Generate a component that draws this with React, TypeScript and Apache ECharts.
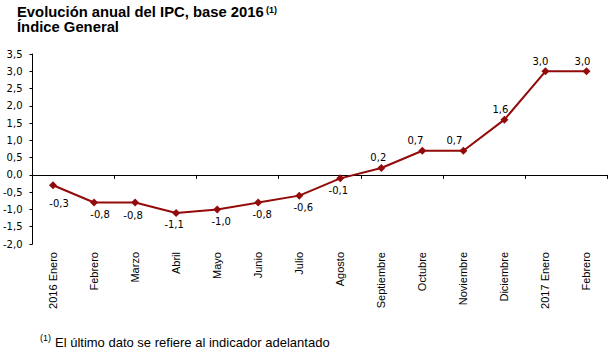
import React, { useEffect, useRef } from "react";
import * as echarts from "echarts";

const categories = [
  "2016 Enero", "Febrero", "Marzo", "Abril", "Mayo", "Junio", "Julio",
  "Agosto", "Septiembre", "Octubre", "Noviembre", "Diciembre", "2017 Enero", "Febrero",
];
const ipcValues = [-0.3, -0.8, -0.8, -1.1, -1.0, -0.8, -0.6, -0.1, 0.2, 0.7, 0.7, 1.6, 3.0, 3.0];
const yMin = -2;
const yMax = 3.5;
const yInterval = 0.5;
// label nudges (style only) [dx, dy]
const labelNudges = [
  [6, 6], [6, 0], [-2, 1], [-2, 0], [4, 0], [4, 0], [4, 0],
  [-2, 0], [-3, -1], [-7, 0], [-9, 0], [-4, 0], [-5, 0], [-4, 0],
];

const fmt = (v: number) => v.toFixed(1).replace(".", ",");

export default function App() {
  const ref = useRef<HTMLDivElement>(null);
  useEffect(() => {
    if (!ref.current) return;
    const chart = echarts.init(ref.current, null, { renderer: "svg" });
    const color = "#930a0a";
    chart.setOption({
      animation: false,
      grid: { left: 32, right: 9, top: 54, bottom: 110 },
      graphic: [
        {
          type: "text", left: 17, top: 4,
          style: { text: "Evolución anual del IPC, base 2016", font: "bold 14.8px 'Liberation Sans', Arial", fill: "#000" },
        },
        {
          type: "text", left: 266, top: 5,
          style: { text: "(1)", font: "bold 9px 'Liberation Sans', Arial", fill: "#000" },
        },
        {
          type: "text", left: 17, top: 19,
          style: { text: "Índice General", font: "bold 14.8px 'Liberation Sans', Arial", fill: "#000" },
        },
        {
          type: "text", left: 40, top: 333,
          style: { text: "(1)", font: "9px 'Liberation Sans', Arial", fill: "#000" },
        },
        {
          type: "text", left: 55, top: 336,
          style: { text: "El último dato se refiere al indicador adelantado", font: "13px 'Liberation Sans', Arial", fill: "#000" },
        },
      ],
      xAxis: [
        {
          type: "category",
          data: categories,
          boundaryGap: true,
          axisLine: { onZero: true, lineStyle: { color: "#000", width: 1 } },
          axisTick: { show: true, inside: false, length: 4, lineStyle: { color: "#000" } },
          axisLabel: { show: false },
        },
        {
          type: "category",
          data: categories,
          position: "bottom",
          boundaryGap: true,
          axisLine: { show: false, onZero: false },
          axisTick: { show: false },
          axisLabel: {
            show: true, rotate: 90, interval: 0, margin: 8,
            fontFamily: "'Liberation Sans', Arial", fontSize: 11, color: "#000",
          },
        },
      ],
      yAxis: {
        type: "value",
        min: yMin,
        max: yMax,
        interval: yInterval,
        axisLine: { show: true, lineStyle: { color: "#000", width: 1 } },
        axisTick: { show: true, length: 3, lineStyle: { color: "#000" } },
        splitLine: { show: false },
        axisLabel: {
          formatter: (v: number) => fmt(v),
          fontFamily: "'DejaVu Sans'", fontSize: 10, color: "#000", margin: 10,
        },
      },
      series: [
        {
          type: "line",
          xAxisIndex: 0,
          data: ipcValues.map((v, i) => ({
            value: v,
            label: {
              position: v < 0 ? "bottom" : "top",
              distance: v < 0 ? 3 : 1,
              offset: labelNudges[i],
            },
          })),
          symbol: "diamond",
          symbolSize: 8,
          lineStyle: { color, width: 2 },
          itemStyle: { color },
          label: {
            show: true,
            formatter: (p: any) => fmt(p.value),
            fontFamily: "'DejaVu Sans'", fontSize: 10, color: "#000",
          },
        },
      ],
    });
    return () => chart.dispose();
  }, []);
  return (
    <div
      ref={ref}
      style={{ position: "absolute", left: 0, top: 0, width: 616, height: 354 }}
    />
  );
}
